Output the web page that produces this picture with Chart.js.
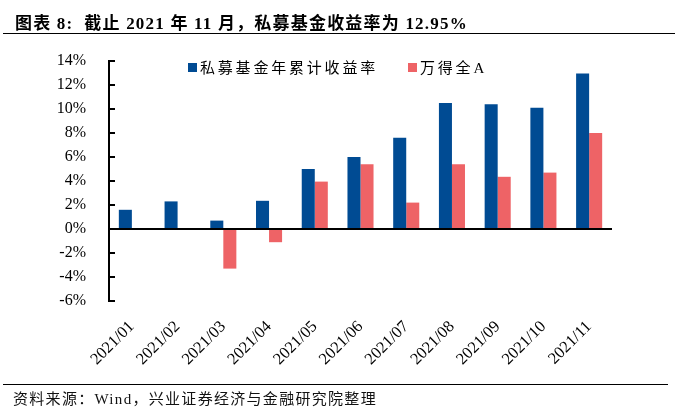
<!DOCTYPE html>
<html>
<head>
<meta charset="utf-8">
<script src="https://cdn.jsdelivr.net/npm/chart.js@4.4.0/dist/chart.umd.min.js"></script>
<style>
  body { margin: 0; background: #fff; }
  #wrap { position: relative; width: 678px; height: 411px; overflow: hidden; font-family: "Liberation Serif", "Noto Sans CJK SC", serif; }
  #chartBox { position: absolute; left: 0; top: 0; width: 678px; height: 411px; }
  .title { position: absolute; left: 15px; top: 9px; font-size: 17px; font-weight: bold; letter-spacing: 1.2px; white-space: nowrap; }
  .rule { position: absolute; left: 3px; height: 0; border-top: 1.5px solid #000; }
  .source { position: absolute; left: 13px; top: 387px; font-size: 15px; letter-spacing: 1.3px; white-space: nowrap; color: #111; }
  #legend { position: absolute; left: 188px; top: 56px; font-size: 15px; white-space: nowrap; }
  #legend span.item { margin-right: 30px; letter-spacing: 2.8px; }
  #legend span.box { display: inline-block; width: 9px; height: 9px; margin-right: 3px; vertical-align: 1px; }
</style>
</head>
<body>
<div id="wrap">
  <div id="chartBox"><canvas id="returnChart"></canvas></div>
  <div class="title">图表 8:&nbsp; 截止 2021 年 11 月，私募基金收益率为 12.95%</div>
  <div class="rule" style="top:33px; width:672px;"></div>
  <div id="legend"></div>
  <div class="rule" style="top:384px; width:665px;"></div>
  <div class="source">资料来源：Wind，兴业证券经济与金融研究院整理</div>
</div>
<script>
const months = ["2021/01", "2021/02", "2021/03", "2021/04", "2021/05", "2021/06",
                "2021/07", "2021/08", "2021/09", "2021/10", "2021/11"];
const privateFund = [1.6, 2.3, 0.7, 2.35, 5.0, 6.0, 7.6, 10.5, 10.4, 10.1, 12.95];
const windA = [0, 0, -3.3, -1.1, 3.95, 5.4, 2.2, 5.4, 4.35, 4.7, 8.0];
const seriesNames = ["私募基金年累计收益率", "万得全A"];
const seriesColors = ["#004B93", "#EE6366"];
const yMin = -6, yMax = 14, yStep = 2;

const fontFamily = "'Liberation Serif', 'Noto Sans CJK SC', serif";

// inward ticks on y axis + zero line drawn over bars
const axisExtras = {
  id: "axisExtras",
  afterDatasetsDraw(chart) {
    const c = chart.ctx, y = chart.scales.y, area = chart.chartArea;
    c.save();
    c.strokeStyle = "#000";
    c.lineWidth = 2;
    y.ticks.forEach(t => {
      const py = Math.round(y.getPixelForValue(t.value));
      c.beginPath();
      c.moveTo(area.left, py);
      c.lineTo(area.left + 6, py);
      c.stroke();
    });
    const zy = Math.round(y.getPixelForValue(0));
    c.beginPath();
    c.moveTo(area.left, zy);
    c.lineTo(area.right, zy);
    c.stroke();
    c.restore();
  }
};

const ctx = document.getElementById("returnChart").getContext("2d");
const chart = new Chart(ctx, {
  type: "bar",
  data: {
    labels: months,
    datasets: [
      { label: seriesNames[0], data: privateFund, backgroundColor: seriesColors[0] },
      { label: seriesNames[1], data: windA, backgroundColor: seriesColors[1] }
    ]
  },
  options: {
    responsive: true,
    maintainAspectRatio: false,
    animation: false,
    layout: { padding: { left: 0, right: 66, top: 61, bottom: 0 } },
    datasets: { bar: { categoryPercentage: 0.57, barPercentage: 1 } },
    plugins: { legend: { display: false }, tooltip: { enabled: false } },
    scales: {
      x: {
        grid: { display: false },
        border: { display: false },
        ticks: { color: "#000", font: { family: fontFamily, size: 16.5 }, minRotation: 45, maxRotation: 45, padding: 8 },
        afterFit(scale) { scale.height = 110; }
      },
      y: {
        min: yMin,
        max: yMax,
        grid: { display: false },
        border: { display: true, color: "#000", width: 2 },
        ticks: {
          stepSize: yStep,
          color: "#000",
          font: { family: fontFamily, size: 16 },
          padding: 15,
          callback: v => v + "%"
        },
        afterFit(scale) { scale.width = 109; }
      }
    }
  },
  plugins: [axisExtras]
});

// html legend built from datasets
const legend = document.getElementById("legend");
chart.data.datasets.forEach(ds => {
  const item = document.createElement("span");
  item.className = "item";
  item.innerHTML = '<span class="box" style="background:' + ds.backgroundColor + '"></span>' + ds.label;
  legend.appendChild(item);
});
</script>
</body>
</html>
